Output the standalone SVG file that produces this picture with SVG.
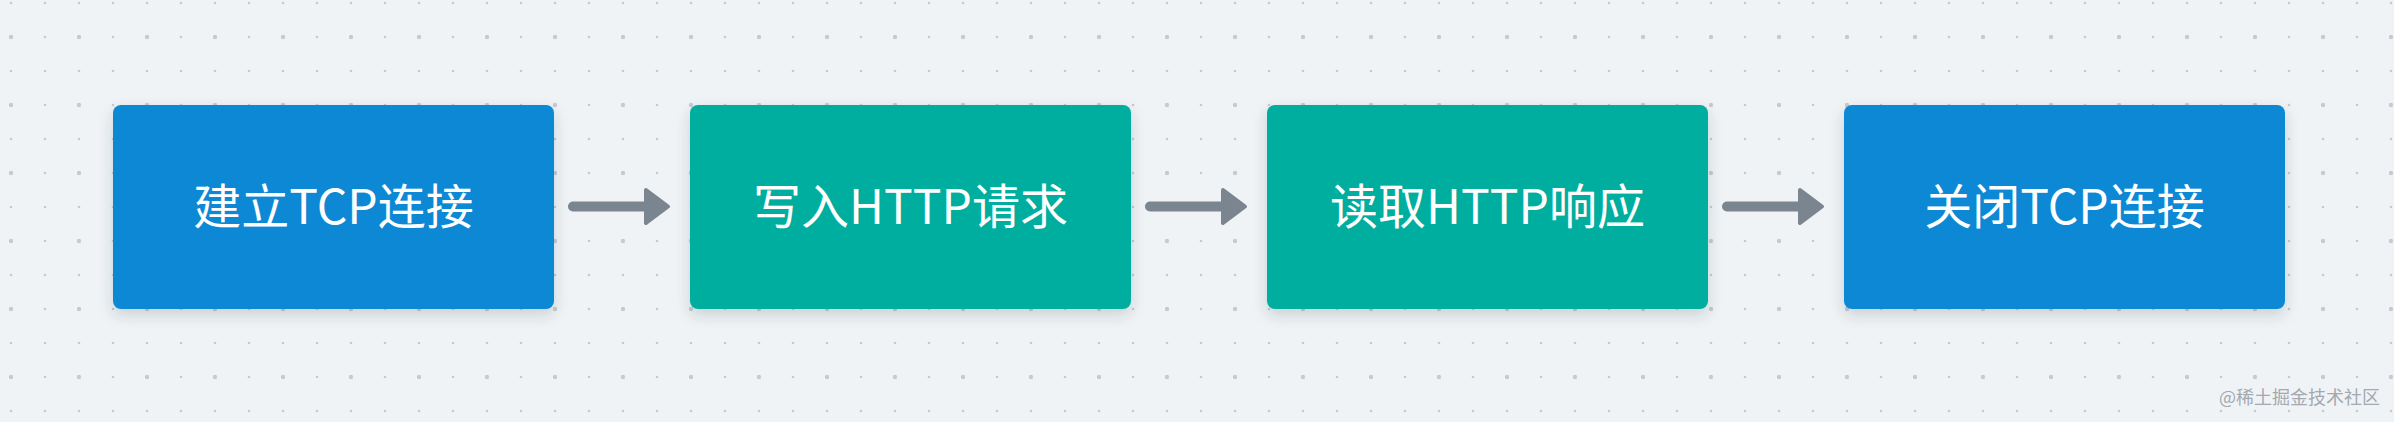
<svg xmlns="http://www.w3.org/2000/svg" width="2394" height="422" viewBox="0 0 2394 422">
  <style>
    .bg { fill: #f0f3f6; }
    .box-blue { fill: #0a88d5; }
    .box-teal { fill: #00ae9f; }
    .label { fill: #ffffff; font-family: "Noto Sans CJK SC", "Noto Sans", sans-serif; font-size: 48px; text-anchor: middle; }
    .conn line { stroke: #7a858f; stroke-width: 10; stroke-linecap: round; }
    .conn path { fill: #7a858f; stroke: #7a858f; stroke-width: 4; stroke-linejoin: round; }
    .wm { fill: #a3a9b0; font-family: "Noto Sans CJK SC", "Noto Sans", sans-serif; font-size: 18px; text-anchor: end; }
  </style>
  <defs>
    <pattern id="dots" x="0" y="0" width="68" height="68" patternUnits="userSpaceOnUse">
      <circle cx="11" cy="3" r="1.3" fill="#c6cad0"/>
      <circle cx="45" cy="3" r="1.3" fill="#c6cad0"/>
      <circle cx="11" cy="37" r="2.2" fill="#c6cad0"/>
      <circle cx="45" cy="37" r="1.3" fill="#c6cad0"/>
    </pattern>
    <filter id="shadow" x="-10%" y="-20%" width="120%" height="150%">
      <feDropShadow dx="0" dy="6" stdDeviation="7" flood-color="#2a3440" flood-opacity="0.18"/>
    </filter>
  </defs>
  <rect class="bg" x="0" y="0" width="2394" height="422"/>
  <rect x="0" y="0" width="2394" height="422" fill="url(#dots)"/>

  <g id="connectors" class="conn">
    <g id="c1">
      <line x1="573" y1="206.5" x2="648" y2="206.5"/>
      <path d="M646 190 L668 206.5 L646 223 Z"/>
    </g>
    <g id="c2">
      <line x1="1150" y1="206.5" x2="1225" y2="206.5"/>
      <path d="M1223 190 L1245 206.5 L1223 223 Z"/>
    </g>
    <g id="c3">
      <line x1="1727" y1="206.5" x2="1802" y2="206.5"/>
      <path d="M1800 190 L1822 206.5 L1800 223 Z"/>
    </g>
  </g>

  <g id="node1">
    <rect class="box-blue" x="113" y="105" width="441" height="204" rx="8" filter="url(#shadow)"/>
    <text class="label" x="333.5" y="224">建立TCP连接</text>
  </g>
  <g id="node2">
    <rect class="box-teal" x="690" y="105" width="441" height="204" rx="8" filter="url(#shadow)"/>
    <text class="label" x="910.5" y="224">写入HTTP请求</text>
  </g>
  <g id="node3">
    <rect class="box-teal" x="1267" y="105" width="441" height="204" rx="8" filter="url(#shadow)"/>
    <text class="label" x="1487.5" y="224">读取HTTP响应</text>
  </g>
  <g id="node4">
    <rect class="box-blue" x="1844" y="105" width="441" height="204" rx="8" filter="url(#shadow)"/>
    <text class="label" x="2064.5" y="224">关闭TCP连接</text>
  </g>

  <text class="wm" x="2380" y="404">@稀土掘金技术社区</text>
</svg>
